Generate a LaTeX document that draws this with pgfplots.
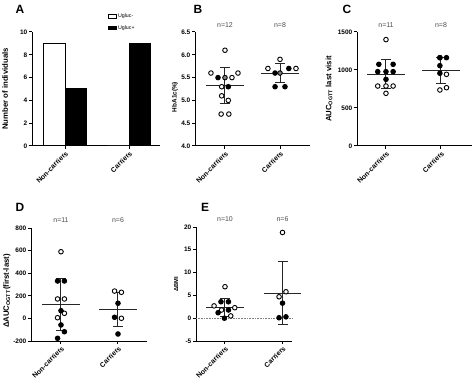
\documentclass[border=0pt]{standalone}
\usepackage{fontspec}
\setmainfont{Liberation Sans}
\usepackage{pgfplots}
\pgfplotsset{compat=1.18}
\pgfplotsset{
  panel/.style={
    scale only axis, clip=false,
    axis lines=left,
    axis line style={-, line width=1bp, black},
    tick style={line width=1bp, black},
    major tick length=3bp,
    tick align=outside,
    enlargelimits=false,
    xtick={0,1},
    xticklabels={Non-carriers,Carriers},
    xticklabel style={rotate=45, anchor=north east, inner sep=1bp, font=\fontsize{7}{8}\selectfont\bfseries},
    yticklabel style={inner sep=1.5bp, font=\fontsize{6.5}{7}\selectfont\bfseries},
    /pgf/number format/assume math mode=true,
    /pgf/number format/1000 sep={},
    every axis y label/.style={at={(axis description cs:0,0.5)}, rotate=90, anchor=center, font=\fontsize{7.8}{9}\selectfont\bfseries},
  },
  openm/.style={only marks, mark=*, mark size=2.3bp, mark options={draw=black, fill=white, line width=0.9bp}},
  fillm/.style={only marks, mark=*, mark size=2.3bp, mark options={draw=black, fill=black, line width=0.9bp}},
  greym/.style={only marks, mark=*, mark size=2.3bp, mark options={draw=black, fill=gray, line width=0.9bp}},
  sdline/.style={no marks, line width=1bp, black!85},
}
\tikzset{
  nlab/.style={font=\fontsize{7}{8}\selectfont, text=black!70, anchor=center},
  plab/.style={font=\fontsize{12}{14}\selectfont\bfseries, anchor=center},
}
\begin{document}
\begin{tikzpicture}
\useasboundingbox (0,0) rectangle (474bp,385bp);

% ---------------- A ----------------
\begin{axis}[panel, at={(32bp,239bp)}, anchor=south west, width=128bp, height=114bp,
  ybar=0pt, bar width=21.5bp, xmin=-0.516, xmax=1.484, ymin=0, ymax=10, ytick={0,2,...,10},
  ylabel={Number of individuals}, ylabel style={at={(axis description cs:-0.211,0.5)}},
  legend cell align=left,
  legend style={at={(axis description cs:0.594,1.0)}, anchor=south west, draw=none, fill=none,
    inner sep=0pt, font=\fontsize{5.3}{6}\selectfont, row sep=4.5bp, nodes={inner sep=1bp}},
  legend image code/.code={\draw[#1, line width=0.8bp] (0bp,-1.6bp) rectangle (8bp,1.6bp);}]
\addplot[draw=black, fill=white, line width=1bp] coordinates {(0,9) (1,0)};
\addplot[draw=black, fill=black, line width=1bp] coordinates {(0,5) (1,9)};
\legend{Ugluc-,Ugluc+}
\end{axis}

% ---------------- B ----------------
\begin{axis}[panel, at={(195bp,239bp)}, anchor=south west, width=115bp, height=114bp,
  xmin=-0.545, xmax=1.545, ymin=4, ymax=6.5, ytick={4,4.5,5,5.5,6,6.5},
  yticklabel style={/pgf/number format/fixed, /pgf/number format/fixed zerofill, /pgf/number format/precision=1},
  ylabel={HbA1c(\%)}, ylabel style={at={(axis description cs:-0.174,0.43)}, font=\fontsize{6.4}{8}\selectfont\bfseries}]
\addplot[sdline] coordinates {(-0.345,5.325) (0.345,5.325)};
\addplot[sdline] coordinates {(0,4.922) (0,5.728)};
\addplot[sdline] coordinates {(-0.09,5.728) (0.09,5.728)};
\addplot[sdline] coordinates {(-0.09,4.922) (0.09,4.922)};
\addplot[sdline] coordinates {(0.655,5.6) (1.345,5.6)};
\addplot[sdline] coordinates {(1,5.393) (1,5.807)};
\addplot[sdline] coordinates {(0.91,5.807) (1.09,5.807)};
\addplot[sdline] coordinates {(0.91,5.393) (1.09,5.393)};
\addplot[openm] coordinates {(0,6.1) (-0.255,5.6) (0.236,5.6) (0.127,5.5) (-0.06,5.3) (-0.06,5.1) (0.06,5.0) (-0.07,4.7) (0.07,4.7)};
\addplot[fillm] coordinates {(-0.127,5.5) (0.06,5.3)};
\addplot[greym] coordinates {(0,5.5)};
\addplot[openm] coordinates {(1,5.9) (0.78,5.7) (1.29,5.7)};
\addplot[fillm] coordinates {(0.91,5.6) (1.16,5.7) (0.91,5.3) (1.09,5.3)};
\addplot[greym] coordinates {(1.0,5.6)};
\node[nlab, yshift=7bp] at (axis cs:0,6.5) {n=12};
\node[nlab, yshift=7bp] at (axis cs:1,6.5) {n=8};
\end{axis}

% ---------------- C ----------------
\begin{axis}[panel, at={(357bp,239bp)}, anchor=south west, width=115bp, height=114bp,
  xmin=-0.527, xmax=1.564, ymin=0, ymax=1500, ytick={0,500,1000,1500},
  ylabel={AUC\textsubscript{OGTT} last visit}, ylabel style={at={(axis description cs:-0.243,0.5)}}]
\addplot[sdline] coordinates {(-0.345,947) (0.345,947)};
\addplot[sdline] coordinates {(0,751) (0,1143)};
\addplot[sdline] coordinates {(-0.09,1143) (0.09,1143)};
\addplot[sdline] coordinates {(-0.09,751) (0.09,751)};
\addplot[sdline] coordinates {(0.655,993) (1.345,993)};
\addplot[sdline] coordinates {(1,820) (1,1166)};
\addplot[sdline] coordinates {(0.91,1166) (1.09,1166)};
\addplot[sdline] coordinates {(0.91,820) (1.09,820)};
\addplot[openm] coordinates {(0,1400) (-0.15,789) (0,789) (0.13,789) (0,693)};
\addplot[fillm] coordinates {(-0.13,1075) (0.13,1075) (-0.15,978) (0,978) (0.13,978) (0,877)};
\addplot[openm] coordinates {(1.1,943) (0.98,737) (1.1,767)};
\addplot[fillm] coordinates {(0.98,1162) (1.1,1162) (0.98,1162) (0.98,1057) (0.98,957)};
\node[nlab, yshift=7bp] at (axis cs:0,1500) {n=11};
\node[nlab, yshift=7bp] at (axis cs:1,1500) {n=8};
\end{axis}

% ---------------- D ----------------
\begin{axis}[panel, at={(31bp,44bp)}, anchor=south west, width=116bp, height=113bp,
  xmin=-0.526, xmax=1.509, ymin=-200, ymax=800, ytick={-200,0,200,400,600,800},
  ylabel={ΔAUC\textsubscript{OGTT}(first-last)}, ylabel style={at={(axis description cs:-0.207,0.442)}}]
\addplot[sdline] coordinates {(-0.333,123) (0.333,123)};
\addplot[sdline] coordinates {(0,-103) (0,349)};
\addplot[sdline] coordinates {(-0.088,349) (0.088,349)};
\addplot[sdline] coordinates {(-0.088,-103) (0.088,-103)};
\addplot[sdline] coordinates {(0.667,80) (1.333,80)};
\addplot[sdline] coordinates {(1,-69) (1,229)};
\addplot[sdline] coordinates {(0.912,229) (1.088,229)};
\addplot[sdline] coordinates {(0.912,-69) (1.088,-69)};
\addplot[openm] coordinates {(0,590) (-0.06,172) (0.06,172) (0.06,45) (-0.06,6)};
\addplot[fillm] coordinates {(-0.06,331) (0.06,331) (0,68) (0,-58) (0.06,-118) (-0.06,-176)};
\addplot[openm] coordinates {(0.94,242) (1.06,231) (1.06,1)};
\addplot[fillm] coordinates {(1,134) (0.94,10) (1,-138)};
\node[nlab, yshift=8bp] at (axis cs:0,800) {n=11};
\node[nlab, yshift=8bp] at (axis cs:1,800) {n=6};
\end{axis}

% ---------------- E ----------------
\begin{axis}[panel, at={(196bp,44bp)}, anchor=south west, width=96bp, height=114bp,
  xmin=-0.504, xmax=1.165, ymin=-5, ymax=20, ytick={-5,0,5,10,15,20},
  ylabel={ΔBMI}, ylabel style={at={(axis description cs:-0.208,0.5)}, font=\fontsize{5.8}{7}\selectfont\bfseries}]
\addplot[gray, densely dotted, line width=0.6bp] coordinates {(-0.504,0) (1.165,0)};
\addplot[sdline] coordinates {(-0.33,2.44) (0.33,2.44)};
\addplot[sdline] coordinates {(0,0.475) (0,4.405)};
\addplot[sdline] coordinates {(-0.087,4.405) (0.087,4.405)};
\addplot[sdline] coordinates {(-0.087,0.475) (0.087,0.475)};
\addplot[sdline] coordinates {(0.67,5.5) (1.33,5.5)};
\addplot[sdline] coordinates {(1,-1.41) (1,12.41)};
\addplot[sdline] coordinates {(0.913,12.41) (1.087,12.41)};
\addplot[sdline] coordinates {(0.913,-1.41) (1.087,-1.41)};
\addplot[openm] coordinates {(0,6.9) (-0.19,2.7) (0.17,2.3) (-0.06,1.8) (0.1,0.5)};
\addplot[fillm] coordinates {(-0.07,3.6) (0.06,3.6) (0.06,1.8) (-0.12,1.2) (-0.01,0.0)};
\addplot[openm] coordinates {(1,18.8) (1.06,5.8) (0.94,4.7)};
\addplot[fillm] coordinates {(1,3.3) (0.94,0.1) (1.06,0.3)};
\node[nlab, yshift=8bp] at (axis cs:0,20) {n=10};
\node[nlab, yshift=8bp] at (axis cs:1,20) {n=6};
\end{axis}

% panel letters
\node[plab] at (20bp,376bp) {A};
\node[plab] at (198bp,376bp) {B};
\node[plab] at (347bp,376bp) {C};
\node[plab] at (20bp,178bp) {D};
\node[plab] at (205bp,178bp) {E};
\end{tikzpicture}
\end{document}
